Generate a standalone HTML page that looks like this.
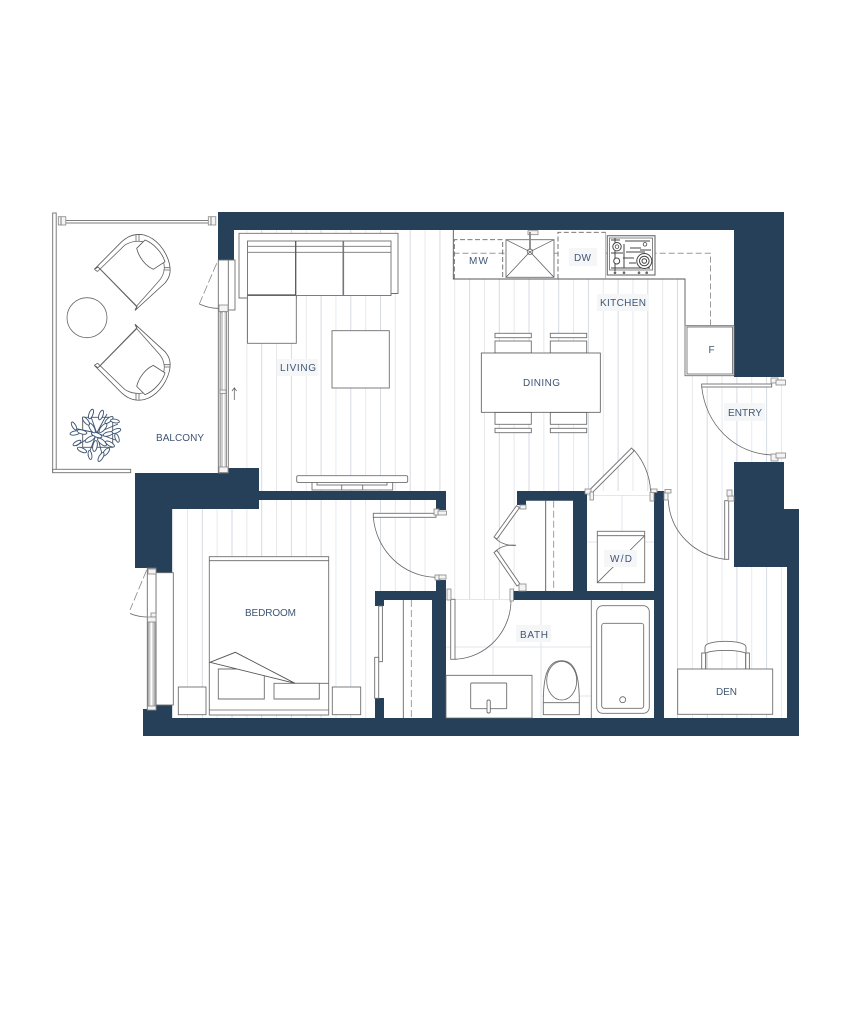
<!DOCTYPE html>
<html><head><meta charset="utf-8"><style>
html,body{margin:0;padding:0;background:#fff}
svg{display:block}
text{font-family:"Liberation Sans",sans-serif;font-size:10px;fill:#3f5573;text-anchor:start}
.f{fill:#fff;stroke:#6f6f6f;stroke-width:.9}
.d{fill:#fff;stroke:#555;stroke-width:.8}
.n{fill:none;stroke:#666;stroke-width:.8}
.j{fill:#f4f4f4;stroke:#888;stroke-width:.8}
.dash{fill:none;stroke:#9a9a9a;stroke-width:1;stroke-dasharray:6 3}
.dd{fill:none;stroke:#666;stroke-width:.9;stroke-dasharray:5 2.5}
.lb{fill:#f5f6f8}
.lf{fill:#fff;stroke:#3a5373;stroke-width:.9}
</style></head><body>
<svg width="845" height="1023" viewBox="0 0 845 1023" xmlns="http://www.w3.org/2000/svg">
<defs>
<clipPath id="fl">
<path d="M234 230H734V491H234ZM734 377H784V462H734ZM446 491H517V600H446ZM172 500H375V718H172ZM375 500H432V591H375ZM664 491H787V718H664Z"/>
</clipPath>
</defs>
<rect width="845" height="1023" fill="#fff"/>

<!-- floor hatch -->
<g clip-path="url(#fl)" fill="none" stroke-width="1">
<path stroke="#d6dae3" d="M172.600 230V718M202.300 230V718M232 230V718M261.700 230V718M291.400 230V718M321.100 230V718M350.800 230V718M380.500 230V718M410.200 230V718M439.900 230V718M469.600 230V718M499.300 230V718M529 230V718M558.700 230V718M588.400 230V718M618.100 230V718M647.800 230V718M677.500 230V718M707.200 230V718M736.900 230V718M766.600 230V718"/>
<path stroke="#e7e9ee" d="M187.450 230V718M217.150 230V718M246.850 230V718M276.550 230V718M306.250 230V718M335.950 230V718M365.650 230V718M395.350 230V718M425.050 230V718M454.750 230V718M484.450 230V718M514.150 230V718M543.850 230V718M573.550 230V718M603.250 230V718M632.950 230V718M662.650 230V718M692.350 230V718M722.050 230V718M751.750 230V718M781.450 230V718"/>
</g>
<!-- tile lines -->
<path fill="none" stroke="#e3e6ec" stroke-width="1" d="M446 599.500H513M446 647H591M493 600V675M541 600V718M541 696H591M587 495.500H654M622 495V591M587 542H654"/>

<!-- balcony -->
<g>
<rect class="f" x="52.700" y="213" width="3.500" height="259.500"/>
<rect class="f" x="52.700" y="469.300" width="78" height="3.400"/>
<rect class="f" x="63" y="220.500" width="148" height="2.500"/>
<rect class="j" x="58.300" y="216.700" width="7.500" height="8.300"/>
<rect class="j" x="208.300" y="216.700" width="7.500" height="8.300"/>
<path class="n" d="M61 217V225M211 217V225"/>
<circle class="n" cx="87" cy="317.700" r="20"/>
<g id="chair">
<path class="d" d="M94.300 269.300L121.700 241.700C129 235 137 233.500 144 235C156 238 166 250 169.500 264C171 272 170 277 165 283L135 310.500L137 307L98 267Z"/>
<path class="n" d="M97.500 271.500L125 245C136 238.500 149 241 156 249C161 255 164.500 262 164.300 268C164 274 162 278 158 282L136.700 306"/>
<path class="n" d="M99.300 268L136.700 306M94.300 269.300L97.500 271.500M135 310L137 306M136 234.500L136 241.300M139 234.500L139 241.500M164.500 267.700H169.800M164 270H170"/>
<path class="d" d="M136.700 248.300L145 240C153 243 162 252 165 261.700L153.300 269.300C146 266 139 258 136.700 248.300Z"/>
</g>
<g transform="matrix(1 0 0 -1 0 634.670)">
<path class="d" d="M94.300 269.300L121.700 241.700C129 235 137 233.500 144 235C156 238 166 250 169.500 264C171 272 170 277 165 283L135 310.500L137 307L98 267Z"/>
<path class="n" d="M97.500 271.500L125 245C136 238.500 149 241 156 249C161 255 164.500 262 164.300 268C164 274 162 278 158 282L136.700 306"/>
<path class="n" d="M99.300 268L136.700 306M94.300 269.300L97.500 271.500M135 310L137 306M136 234.500L136 241.300M139 234.500L139 241.500M164.500 267.700H169.800M164 270H170"/>
<path class="d" d="M136.700 248.300L145 240C153 243 162 252 165 261.700L153.300 269.300C146 266 139 258 136.700 248.300Z"/>
</g>
<!-- plant -->
<rect x="82.700" y="417.300" width="30" height="30" fill="none" stroke="#555" stroke-width=".9"/>
<path fill="none" stroke="#3a5373" stroke-width=".9" d="M96.700 433L90 414M96.700 433L107 414M96.700 433L118 424M96.700 433L118 441M96.700 433L103 458M96.700 433L88 456M96.700 433L76 446M96.700 433L73 428"/>
<g class="lf">
<ellipse cx="96.700" cy="435" rx="5.500" ry="2.200" transform="rotate(20 96.700 435)"/>
<ellipse cx="92" cy="428" rx="5.500" ry="2.200" transform="rotate(60 92 428)"/>
<ellipse cx="103" cy="428" rx="5.500" ry="2.200" transform="rotate(-50 103 428)"/>
<ellipse cx="90" cy="439" rx="5.500" ry="2.200" transform="rotate(-30 90 439)"/>
<ellipse cx="102" cy="442" rx="5.500" ry="2.200" transform="rotate(40 102 442)"/>
<ellipse cx="95" cy="446" rx="5.500" ry="2.200" transform="rotate(100 95 446)"/>
<ellipse cx="86" cy="421" rx="5" ry="2" transform="rotate(50 86 421)"/>
<ellipse cx="91" cy="414" rx="5" ry="2" transform="rotate(110 91 414)"/>
<ellipse cx="101" cy="415" rx="5" ry="2" transform="rotate(-70 101 415)"/>
<ellipse cx="109" cy="420" rx="5" ry="2" transform="rotate(-40 109 420)"/>
<ellipse cx="115" cy="421" rx="4.500" ry="1.800" transform="rotate(10 115 421)"/>
<ellipse cx="116" cy="431" rx="5" ry="2" transform="rotate(-20 116 431)"/>
<ellipse cx="117" cy="438" rx="4.500" ry="1.800" transform="rotate(70 117 438)"/>
<ellipse cx="110" cy="444" rx="5" ry="2" transform="rotate(30 110 444)"/>
<ellipse cx="106" cy="452" rx="5" ry="2" transform="rotate(-50 106 452)"/>
<ellipse cx="101" cy="457" rx="5" ry="2" transform="rotate(-60 101 457)"/>
<ellipse cx="90" cy="455" rx="4.500" ry="1.800" transform="rotate(80 90 455)"/>
<ellipse cx="82" cy="450" rx="5" ry="2" transform="rotate(25 82 450)"/>
<ellipse cx="77" cy="443" rx="4.500" ry="1.800" transform="rotate(-30 77 443)"/>
<ellipse cx="75" cy="433" rx="5" ry="2" transform="rotate(-10 75 433)"/>
<ellipse cx="74" cy="426" rx="4.500" ry="1.800" transform="rotate(60 74 426)"/>
<ellipse cx="82" cy="432" rx="5" ry="2" transform="rotate(15 82 432)"/>
<ellipse cx="108" cy="434" rx="5" ry="2" transform="rotate(-15 108 434)"/>
</g>
</g>

<!-- walls -->
<g fill="#27405a">
<path d="M218 212H784V377H734V230H234V260H218Z"/>
<path d="M135 473H218V472.700H228V468H259V491H446V510H436V500H259V509H172V573H156V568H135Z"/>
<path d="M156 705H172V718H432V600H384V606H375V591H436V580H446V718H654V600H513V591H573V500.700H526V505H517V491H587V591H654V491H664V718H787V567H734V462H784V509H799V736H143V709H156Z"/>
<rect x="375" y="698" width="9" height="20"/>
</g>

<!-- balcony window -->
<rect class="f" x="228" y="260" width="7" height="50"/>
<rect class="f" x="218.300" y="260" width="10" height="213"/>
<rect x="220" y="312" width="6.500" height="158" fill="#cfcfcf" stroke="#777" stroke-width=".7"/>
<rect x="223" y="312" width="1.500" height="158" fill="#fff"/>
<rect class="j" x="219" y="305" width="9" height="6.500"/>
<rect class="j" x="220" y="390" width="6" height="3.500"/>
<rect class="j" x="219" y="467" width="9" height="5.500"/>
<path fill="none" stroke="#888" stroke-width=".8" stroke-dasharray="9 3" d="M216.700 263.300L199.300 304"/>
<path class="n" d="M199.300 304C205 306.500 212 308.500 218.300 308.300"/>
<path fill="none" stroke="#666" stroke-width=".8" d="M234.300 400V388M232 391L234.300 387.800L236.600 391"/>

<!-- sofa -->
<path class="f" d="M239 233.300H398V293.500H390.700V295H296.300V298H239Z"/>
<rect class="f" x="247.500" y="295" width="48.800" height="48.300"/>
<rect class="f" x="247.500" y="241" width="143.500" height="54.500"/>
<path fill="none" stroke="#777" stroke-width=".8" d="M247.500 246.300H391M247.500 252.300H391"/>
<path fill="none" stroke="#555" stroke-width="1.300" d="M295.700 241V295M247.500 295H296"/>
<path fill="none" stroke="#777" stroke-width="1.600" d="M343.300 241V295"/>
<rect class="f" x="332" y="330.700" width="57.300" height="57.300"/>

<!-- tv -->
<rect class="f" x="312" y="482" width="80.700" height="8"/>
<rect class="f" x="317" y="482" width="70" height="3"/>
<rect class="f" x="341.700" y="485" width="21" height="5"/>
<rect class="f" x="296.700" y="475.700" width="111" height="6.700" rx="1.500"/>

<!-- dining -->
<g>
<rect class="f" x="495" y="333.300" width="36.300" height="4.400"/>
<rect class="f" x="550.300" y="333.300" width="36.400" height="4.400"/>
<rect class="f" x="495" y="341" width="36.300" height="12"/>
<rect class="f" x="550.300" y="341" width="36.400" height="12"/>
<rect class="f" x="495" y="412.300" width="36.300" height="12"/>
<rect class="f" x="550.300" y="412.300" width="36.400" height="12"/>
<rect class="f" x="495" y="428.300" width="36.300" height="4.400"/>
<rect class="f" x="550.300" y="428.300" width="36.400" height="4.400"/>
<rect class="d" x="481.300" y="353" width="119" height="59.300"/>
</g>

<!-- kitchen -->
<path fill="#fff" d="M453.300 230H734V325H685V279H453.300Z"/>
<path fill="none" stroke="#555" stroke-width=".9" d="M453.300 230V279H685V325"/>
<path class="dash" d="M453.500 253.300H506M554 253.300H558M605.700 253.300H710.500V325"/>
<path class="dd" d="M454.300 279V239.700H502.700V279M558 279V232.300H605.700"/>
<path fill="none" stroke="#999" stroke-width=".7" d="M605.700 232.300V279"/>
<rect class="f" x="506" y="239.700" width="48" height="37.600"/>
<path class="n" d="M506 239.700L530 251.700L554 239.700M506 277.300L530 251.700L554 277.300"/>
<circle class="n" cx="530" cy="251.700" r="2.800"/>
<rect class="j" x="528" y="230.700" width="10" height="4"/>
<path fill="none" stroke="#888" stroke-width="1.800" d="M530 232V250"/>
<rect x="607.300" y="235.700" width="47.700" height="39.300" fill="#fff" stroke="#777" stroke-width="1.200"/>
<rect class="n" x="609.500" y="238" width="43" height="32"/>
<path fill="none" stroke="#444" stroke-width="1" d="M611 240H620M625 241H650M630 248H641M626 252H645M611 253H623M615 238V271M611 268H650M623 258H634M629 263H636M624 244V268M640 250H651"/>
<circle cx="617" cy="246.700" r="4.200" fill="#fff" stroke="#444"/>
<circle cx="617" cy="246.700" r="1.800" fill="none" stroke="#444" stroke-width=".8"/>
<circle cx="616.700" cy="261" r="3" fill="#fff" stroke="#444"/>
<circle cx="644.300" cy="261" r="7.500" fill="#fff" stroke="#444"/>
<circle cx="644.300" cy="261" r="4.800" fill="none" stroke="#444"/>
<circle cx="644.300" cy="261" r="2.300" fill="none" stroke="#444"/>
<circle cx="645" cy="244.300" r="1.800" fill="#fff" stroke="#444" stroke-width=".8"/>
<g fill="#666"><circle cx="615" cy="272.700" r="1.300"/><circle cx="624" cy="272.700" r="1.300"/><circle cx="639" cy="272.700" r="1.300"/><circle cx="646.700" cy="272.700" r="1.300"/></g>
<!-- fridge -->
<rect class="f" x="685" y="325.700" width="49" height="50" stroke-width="1"/>
<rect class="n" x="687" y="327" width="45.500" height="47"/>

<!-- entry door -->
<rect class="f" x="701.700" y="384" width="70" height="3"/>
<path class="n" d="M701.700 387C706 424 733 453 771.700 455"/>
<rect class="j" x="771" y="378" width="7" height="5"/>
<rect class="j" x="776" y="380" width="9.500" height="5"/>
<rect class="j" x="771" y="454" width="7" height="7"/>
<rect class="j" x="776" y="453" width="9.500" height="5"/>

<!-- bedroom door -->
<rect class="f" x="373.300" y="513.300" width="62.700" height="4"/>
<path class="n" d="M373.300 517C376 550 402 576 435 577.300"/>
<rect class="j" x="434" y="509" width="5" height="6"/>
<rect class="j" x="438" y="511" width="8.500" height="4"/>
<rect class="j" x="435" y="575" width="5" height="5"/>
<rect class="j" x="439" y="575" width="7" height="4"/>

<!-- bedroom window -->
<rect class="f" x="156" y="572.700" width="17.300" height="132.300"/>
<rect class="f" x="147.300" y="568" width="8.700" height="142"/>
<rect x="148" y="622" width="7" height="86" fill="#c9c9c9" stroke="#777" stroke-width=".6"/>
<rect x="150.500" y="622" width="1.800" height="86" fill="#fff"/>
<rect class="j" x="148" y="569" width="8" height="5"/>
<rect class="j" x="151" y="613" width="5" height="4"/>
<rect class="j" x="147.500" y="617" width="8.500" height="5"/>
<rect class="j" x="147.500" y="706" width="8.500" height="4"/>
<path fill="none" stroke="#888" stroke-width=".8" stroke-dasharray="9 3" d="M146.700 570L130 610"/>
<path class="n" d="M130 613.500C136 616 141 617 147 617"/>

<!-- bed -->
<rect class="f" x="178.300" y="687" width="27.700" height="27.700"/>
<rect class="f" x="332.300" y="687" width="28.400" height="27.700"/>
<rect class="f" x="209.300" y="556.700" width="119.400" height="158.300"/>
<path class="n" d="M209.300 560.700H328.700M209.300 710H328.700M295 683.300H328.700"/>
<path class="f" d="M218.300 669H264.300V699H218.300Z"/>
<path class="f" d="M274 683.300H319.300V699H274Z"/>
<path d="M210 662.300L235.300 652.300L295 683.300Z" fill="#fff" stroke="#555" stroke-width=".9"/>

<!-- bedroom closet -->
<path fill="none" stroke="#666" stroke-width=".9" d="M403.300 600V718"/>
<path fill="none" stroke="#888" stroke-width=".8" stroke-dasharray="7 3" d="M411.300 600V718"/>
<rect class="f" x="378.700" y="606" width="3.700" height="55.700"/>
<rect class="f" x="374.700" y="657.300" width="4" height="41"/>

<!-- front closet -->
<path fill="none" stroke="#555" stroke-width=".9" d="M545.700 500.700V591"/>
<path fill="none" stroke="#888" stroke-width=".8" stroke-dasharray="7 3" d="M553.700 500.700V591"/>
<path class="f" d="M516.500 505.700L519.500 507.700L497 539L494 537Z"/>
<path class="f" d="M494 552.500L497 550.500L520 584L517 586Z"/>
<path class="n" d="M495 538C501 544 509 546 516 545.300C509 544.500 501 546 495 551.500"/>
<rect class="j" x="520" y="505" width="6" height="4"/>
<rect class="j" x="519" y="584" width="7" height="7"/>

<!-- bath door -->
<rect class="f" x="450.700" y="599.300" width="4.300" height="60"/>
<path class="n" d="M455 659.300C486 658 511 632 511 600"/>
<rect class="j" x="447" y="589" width="4" height="11"/>
<rect class="j" x="510" y="589" width="3.500" height="12"/>

<!-- laundry -->
<path class="f" d="M589.500 490L631.500 448L634 451L592 493Z"/>
<path class="n" d="M633.500 449.500C643 460 650 475 650.500 491"/>
<rect class="j" x="585" y="489" width="6" height="5"/>
<rect class="j" x="590" y="492" width="3.500" height="8"/>
<rect class="j" x="650" y="492" width="4" height="9"/>
<rect class="j" x="651" y="489" width="6" height="3.500"/>
<rect class="f" x="597.300" y="531.300" width="47.400" height="51.400"/>
<path class="n" d="M597.300 535.700H644.700M597.300 582.700L644.700 535.700"/>

<!-- den door -->
<rect class="f" x="724.700" y="500.700" width="4" height="58.600"/>
<path class="n" d="M724.700 559.300C695 555 670 533 668.300 500"/>
<rect class="j" x="664" y="492" width="4" height="8"/>
<rect class="j" x="665" y="489.500" width="6" height="3.500"/>
<rect class="j" x="728" y="496" width="6" height="5"/>
<rect class="j" x="727" y="490" width="5" height="6"/>

<!-- bath -->
<path fill="#fff" stroke="#666" stroke-width=".8" d="M446 675.300H532V718H446Z"/>
<rect class="f" x="470.700" y="683" width="36" height="25.700" rx="1"/>
<rect class="f" x="487" y="700" width="3.300" height="13" rx="1.500"/>
<path class="f" d="M543.300 702.700C543.300 680 546 660.700 561.500 660.700C577 660.700 579.300 680 579.300 702.700V714.700H543.300Z"/>
<path class="n" d="M543.300 702.700H579.300"/>
<ellipse class="n" cx="561.700" cy="680.700" rx="15" ry="19.300"/>
<path fill="none" stroke="#777" stroke-width=".9" d="M591.300 600V718"/>
<rect class="f" x="596.700" y="605.700" width="52.600" height="107.600" rx="6"/>
<rect class="f" x="601.700" y="623.300" width="42" height="85" rx="2.500"/>
<circle class="n" cx="622.700" cy="699.700" r="3"/>

<!-- den -->
<path class="f" d="M705 653.300V647C705 643 716 641.300 725.500 641.300C735 641.300 746 643 746 647V653.300C738 649.500 713 649.500 705 653.300Z"/>
<rect class="f" x="701.700" y="653" width="4" height="16"/>
<rect class="f" x="745.700" y="653" width="3.700" height="16"/>
<path class="n" d="M705.700 653V669M745.700 653V669"/>
<rect class="f" x="677.700" y="669" width="95" height="45.300"/>

<!-- labels -->
<rect class="lb" x="277" y="359" width="41" height="17"/>
<rect class="lb" x="569" y="248" width="28" height="18"/>
<rect class="lb" x="597" y="294" width="52" height="17"/>
<rect class="lb" x="724" y="403" width="41" height="18"/>
<rect class="lb" x="604" y="550" width="33" height="17"/>
<rect class="lb" x="516" y="625" width="35" height="17"/>
<text x="156" y="441" textLength="48" lengthAdjust="spacing">BALCONY</text>
<text x="280" y="371" textLength="36" lengthAdjust="spacing">LIVING</text>
<text x="469" y="264" textLength="19" lengthAdjust="spacing">MW</text>
<text x="574" y="261" textLength="17" lengthAdjust="spacing">DW</text>
<text x="600" y="306" textLength="46" lengthAdjust="spacing">KITCHEN</text>
<text x="708.500" y="353">F</text>
<text x="523" y="386" textLength="37" lengthAdjust="spacing">DINING</text>
<text x="728" y="416" textLength="34" lengthAdjust="spacing">ENTRY</text>
<text x="245" y="616" textLength="51" lengthAdjust="spacing">BEDROOM</text>
<text x="610" y="562" textLength="22" lengthAdjust="spacing">W/D</text>
<text x="520" y="638" textLength="28" lengthAdjust="spacing">BATH</text>
<text x="716" y="695" textLength="21" lengthAdjust="spacing">DEN</text>
</svg>
</body></html>
